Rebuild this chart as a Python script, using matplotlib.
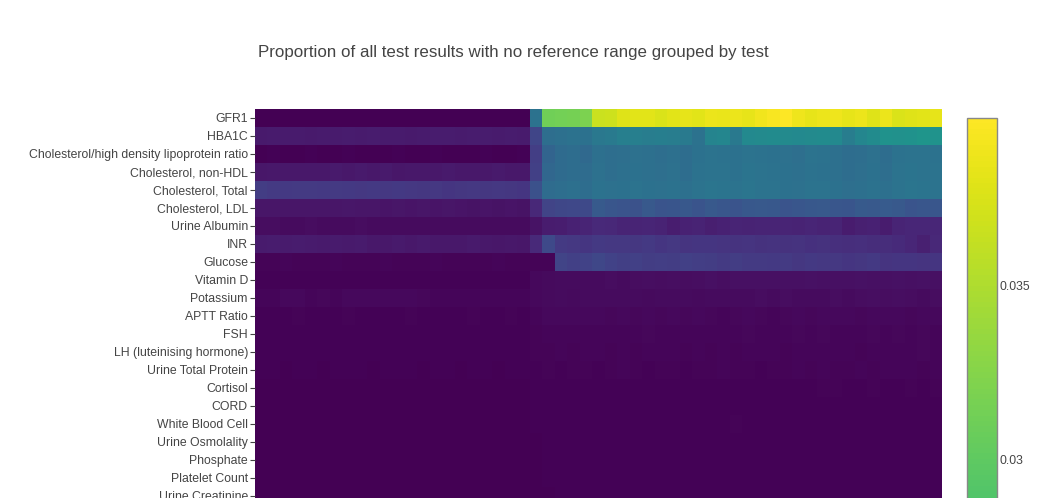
import numpy as np
import matplotlib
matplotlib.use("Agg")
import matplotlib.pyplot as plt
from matplotlib.ticker import FuncFormatter

plt.rcParams['font.family'] = ['Liberation Sans', 'DejaVu Sans']

title = "Proportion of all test results with no reference range grouped by test"

tests = ["GFR1", "HBA1C", "Cholesterol/high density lipoprotein ratio",
         "Cholesterol, non-HDL", "Cholesterol, Total", "Cholesterol, LDL",
         "Urine Albumin", "INR", "Glucose", "Vitamin D", "Potassium",
         "APTT Ratio", "FSH", "LH (luteinising hormone)", "Urine Total Protein",
         "Cortisol", "CORD", "White Blood Cell", "Urine Osmolality",
         "Phosphate", "Platelet Count", "Urine Creatinine"]

# one value per period (55 periods), proportion of results with no range
gfr1 = [0.0001, 0.0001, 0.0000, 0.0001, 0.0001, 0.0000, 0.0001, 0.0001, 0.0001, 0.0000, 0.0001,
        0.0001, 0.0000, 0.0001, 0.0001, 0.0001, 0.0000, 0.0001, 0.0001, 0.0001, 0.0000, 0.0001,
        0.0150, 0.0312, 0.0313, 0.0315, 0.0320, 0.0366, 0.0368, 0.0378, 0.0380, 0.0380, 0.0376,
        0.0380, 0.0383, 0.0380, 0.0386, 0.0385, 0.0386, 0.0384, 0.0390, 0.0394, 0.0398, 0.0388,
        0.0383, 0.0386, 0.0388, 0.0384, 0.0386, 0.0378, 0.0387, 0.0375, 0.0379, 0.0380, 0.0383]
hba1c = [0.0027, 0.0029, 0.0028, 0.0028, 0.0027, 0.0029, 0.0028, 0.0030, 0.0029, 0.0030, 0.0028,
         0.0029, 0.0027, 0.0028, 0.0030, 0.0031, 0.0029, 0.0030, 0.0031, 0.0029, 0.0030, 0.0028,
         0.0082, 0.0143, 0.0146, 0.0150, 0.0148, 0.0159, 0.0163, 0.0171, 0.0171, 0.0167, 0.0169,
         0.0167, 0.0163, 0.0150, 0.0179, 0.0183, 0.0161, 0.0187, 0.0189, 0.0191, 0.0189, 0.0187,
         0.0189, 0.0191, 0.0187, 0.0167, 0.0183, 0.0191, 0.0203, 0.0199, 0.0203, 0.0207, 0.0205]
chol_hdl = [0.0001, 0.0002, 0.0001, 0.0001, 0.0002, 0.0001, 0.0001, 0.0002, 0.0001, 0.0001, 0.0001,
            0.0002, 0.0001, 0.0001, 0.0002, 0.0001, 0.0001, 0.0001, 0.0002, 0.0001, 0.0001, 0.0002,
            0.0072, 0.0127, 0.0137, 0.0140, 0.0135, 0.0146, 0.0142, 0.0144, 0.0147, 0.0145, 0.0143,
            0.0146, 0.0140, 0.0149, 0.0151, 0.0150, 0.0148, 0.0152, 0.0150, 0.0149, 0.0147, 0.0144,
            0.0151, 0.0150, 0.0146, 0.0140, 0.0143, 0.0147, 0.0141, 0.0150, 0.0152, 0.0151, 0.0150]
chol_nonhdl = [0.0024, 0.0026, 0.0025, 0.0026, 0.0025, 0.0026, 0.0027, 0.0026, 0.0027, 0.0026, 0.0027,
               0.0024, 0.0026, 0.0025, 0.0026, 0.0027, 0.0026, 0.0025, 0.0026, 0.0027, 0.0026, 0.0025,
               0.0075, 0.0132, 0.0138, 0.0141, 0.0139, 0.0147, 0.0143, 0.0145, 0.0148, 0.0146, 0.0144,
               0.0147, 0.0141, 0.0150, 0.0152, 0.0151, 0.0149, 0.0153, 0.0151, 0.0150, 0.0148, 0.0145,
               0.0150, 0.0149, 0.0145, 0.0141, 0.0144, 0.0148, 0.0142, 0.0151, 0.0153, 0.0152, 0.0151]
chol_total = [0.0070, 0.0068, 0.0066, 0.0067, 0.0068, 0.0066, 0.0067, 0.0066, 0.0065, 0.0066, 0.0064,
              0.0066, 0.0065, 0.0063, 0.0064, 0.0062, 0.0063, 0.0064, 0.0063, 0.0064, 0.0063, 0.0062,
              0.0099, 0.0139, 0.0143, 0.0146, 0.0141, 0.0150, 0.0147, 0.0148, 0.0151, 0.0149, 0.0147,
              0.0150, 0.0145, 0.0152, 0.0154, 0.0153, 0.0151, 0.0154, 0.0152, 0.0151, 0.0149, 0.0147,
              0.0152, 0.0151, 0.0148, 0.0144, 0.0146, 0.0150, 0.0146, 0.0152, 0.0154, 0.0153, 0.0152]
chol_ldl = [0.0022, 0.0023, 0.0022, 0.0023, 0.0022, 0.0022, 0.0023, 0.0024, 0.0023, 0.0022, 0.0021,
            0.0022, 0.0021, 0.0022, 0.0021, 0.0022, 0.0021, 0.0020, 0.0021, 0.0020, 0.0021, 0.0020,
            0.0044, 0.0080, 0.0084, 0.0087, 0.0088, 0.0111, 0.0106, 0.0104, 0.0101, 0.0109, 0.0104,
            0.0105, 0.0108, 0.0103, 0.0110, 0.0107, 0.0104, 0.0108, 0.0109, 0.0108, 0.0103, 0.0107,
            0.0108, 0.0110, 0.0107, 0.0105, 0.0111, 0.0109, 0.0112, 0.0110, 0.0104, 0.0107, 0.0106]
urine_albumin = [0.0013, 0.0013, 0.0012, 0.0012, 0.0013, 0.0012, 0.0012, 0.0012, 0.0013, 0.0012, 0.0012,
                 0.0011, 0.0012, 0.0012, 0.0011, 0.0012, 0.0011, 0.0011, 0.0012, 0.0011, 0.0011, 0.0012,
                 0.0020, 0.0030, 0.0032, 0.0036, 0.0040, 0.0046, 0.0044, 0.0040, 0.0040, 0.0041, 0.0038,
                 0.0032, 0.0036, 0.0038, 0.0034, 0.0037, 0.0039, 0.0038, 0.0039, 0.0040, 0.0039, 0.0038,
                 0.0041, 0.0038, 0.0039, 0.0031, 0.0035, 0.0036, 0.0031, 0.0040, 0.0042, 0.0043, 0.0042]
inr = [0.0028, 0.0030, 0.0029, 0.0030, 0.0028, 0.0027, 0.0028, 0.0027, 0.0028, 0.0026, 0.0025,
       0.0027, 0.0026, 0.0027, 0.0026, 0.0025, 0.0026, 0.0027, 0.0025, 0.0024, 0.0025, 0.0024,
       0.0046, 0.0088, 0.0068, 0.0064, 0.0062, 0.0066, 0.0064, 0.0064, 0.0063, 0.0066, 0.0062,
       0.0064, 0.0060, 0.0061, 0.0062, 0.0060, 0.0058, 0.0060, 0.0056, 0.0058, 0.0057, 0.0058,
       0.0055, 0.0057, 0.0054, 0.0052, 0.0054, 0.0051, 0.0050, 0.0047, 0.0042, 0.0035, 0.0044]
glucose = [0.0004, 0.0004, 0.0005, 0.0004, 0.0004, 0.0004, 0.0005, 0.0004, 0.0004, 0.0004, 0.0005,
           0.0004, 0.0004, 0.0004, 0.0005, 0.0004, 0.0004, 0.0004, 0.0004, 0.0005, 0.0004, 0.0004,
           0.0004, 0.0004, 0.0080, 0.0076, 0.0078, 0.0084, 0.0078, 0.0074, 0.0076, 0.0071, 0.0073,
           0.0070, 0.0075, 0.0072, 0.0071, 0.0068, 0.0070, 0.0067, 0.0068, 0.0066, 0.0067, 0.0063,
           0.0066, 0.0064, 0.0065, 0.0061, 0.0063, 0.0066, 0.0060, 0.0061, 0.0062, 0.0060, 0.0061]
vitamin_d = [0.0002, 0.0002, 0.0002, 0.0002, 0.0002, 0.0002, 0.0002, 0.0002, 0.0002, 0.0002, 0.0002,
             0.0002, 0.0002, 0.0002, 0.0002, 0.0002, 0.0002, 0.0002, 0.0002, 0.0002, 0.0002, 0.0002,
             0.0008, 0.0010, 0.0011, 0.0012, 0.0011, 0.0012, 0.0013, 0.0012, 0.0013, 0.0014, 0.0013,
             0.0014, 0.0013, 0.0015, 0.0016, 0.0015, 0.0016, 0.0017, 0.0016, 0.0017, 0.0016, 0.0017,
             0.0018, 0.0017, 0.0016, 0.0017, 0.0018, 0.0016, 0.0017, 0.0018, 0.0017, 0.0018, 0.0017]
potassium = [0.0005, 0.0006, 0.0008, 0.0008, 0.0006, 0.0007, 0.0006, 0.0008, 0.0008, 0.0008, 0.0009,
             0.0008, 0.0008, 0.0007, 0.0006, 0.0006, 0.0005, 0.0006, 0.0005, 0.0006, 0.0005, 0.0005,
             0.0008, 0.0010, 0.0011, 0.0010, 0.0011, 0.0012, 0.0011, 0.0012, 0.0011, 0.0010, 0.0011,
             0.0012, 0.0011, 0.0010, 0.0011, 0.0012, 0.0011, 0.0012, 0.0013, 0.0012, 0.0013, 0.0012,
             0.0011, 0.0012, 0.0013, 0.0012, 0.0013, 0.0014, 0.0013, 0.0014, 0.0013, 0.0012, 0.0013]
aptt_ratio = [0.0003, 0.0003, 0.0003, 0.0004, 0.0003, 0.0003, 0.0003, 0.0004, 0.0003, 0.0003, 0.0003,
              0.0003, 0.0004, 0.0003, 0.0003, 0.0003, 0.0003, 0.0004, 0.0003, 0.0003, 0.0004, 0.0003,
              0.0006, 0.0008, 0.0009, 0.0008, 0.0009, 0.0008, 0.0007, 0.0008, 0.0007, 0.0008, 0.0007,
              0.0008, 0.0007, 0.0008, 0.0007, 0.0006, 0.0007, 0.0008, 0.0007, 0.0006, 0.0007, 0.0008,
              0.0007, 0.0008, 0.0009, 0.0008, 0.0007, 0.0008, 0.0009, 0.0008, 0.0007, 0.0008, 0.0009]
fsh = [0.0002, 0.0002, 0.0002, 0.0003, 0.0002, 0.0002, 0.0002, 0.0002, 0.0003, 0.0002, 0.0002,
       0.0002, 0.0002, 0.0002, 0.0003, 0.0002, 0.0002, 0.0002, 0.0002, 0.0002, 0.0003, 0.0002,
       0.0004, 0.0005, 0.0006, 0.0005, 0.0006, 0.0005, 0.0006, 0.0005, 0.0006, 0.0007, 0.0006,
       0.0005, 0.0006, 0.0005, 0.0006, 0.0005, 0.0006, 0.0007, 0.0006, 0.0005, 0.0006, 0.0007,
       0.0006, 0.0007, 0.0006, 0.0005, 0.0006, 0.0007, 0.0006, 0.0007, 0.0006, 0.0007, 0.0006]
lh = [0.0002, 0.0002, 0.0002, 0.0002, 0.0003, 0.0002, 0.0002, 0.0002, 0.0002, 0.0002, 0.0003,
      0.0002, 0.0002, 0.0002, 0.0002, 0.0003, 0.0002, 0.0002, 0.0002, 0.0002, 0.0002, 0.0002,
      0.0004, 0.0004, 0.0005, 0.0004, 0.0005, 0.0005, 0.0004, 0.0005, 0.0004, 0.0005, 0.0006,
      0.0005, 0.0004, 0.0005, 0.0004, 0.0005, 0.0004, 0.0005, 0.0006, 0.0005, 0.0004, 0.0005,
      0.0006, 0.0005, 0.0006, 0.0005, 0.0004, 0.0005, 0.0006, 0.0005, 0.0006, 0.0007, 0.0006]
urine_protein = [0.0002, 0.0002, 0.0001, 0.0002, 0.0002, 0.0001, 0.0002, 0.0002, 0.0002, 0.0001, 0.0002,
                 0.0002, 0.0002, 0.0001, 0.0002, 0.0002, 0.0001, 0.0002, 0.0002, 0.0001, 0.0002, 0.0002,
                 0.0003, 0.0004, 0.0003, 0.0004, 0.0004, 0.0003, 0.0004, 0.0005, 0.0004, 0.0003, 0.0004,
                 0.0004, 0.0003, 0.0004, 0.0004, 0.0005, 0.0004, 0.0004, 0.0003, 0.0004, 0.0004, 0.0005,
                 0.0004, 0.0005, 0.0004, 0.0004, 0.0005, 0.0004, 0.0005, 0.0006, 0.0005, 0.0004, 0.0005]
cortisol = [0.0001, 0.0001, 0.0001, 0.0001, 0.0001, 0.0001, 0.0001, 0.0001, 0.0001, 0.0001, 0.0001,
            0.0001, 0.0001, 0.0001, 0.0001, 0.0001, 0.0001, 0.0001, 0.0001, 0.0001, 0.0001, 0.0001,
            0.0002, 0.0002, 0.0003, 0.0002, 0.0003, 0.0002, 0.0002, 0.0003, 0.0002, 0.0002, 0.0003,
            0.0002, 0.0002, 0.0003, 0.0002, 0.0002, 0.0003, 0.0002, 0.0002, 0.0002, 0.0003, 0.0003,
            0.0003, 0.0004, 0.0004, 0.0003, 0.0003, 0.0004, 0.0003, 0.0003, 0.0004, 0.0003, 0.0004]
cord = [0.0001, 0.0001, 0.0001, 0.0001, 0.0001, 0.0001, 0.0001, 0.0001, 0.0001, 0.0001, 0.0001,
        0.0001, 0.0001, 0.0001, 0.0001, 0.0001, 0.0001, 0.0001, 0.0001, 0.0001, 0.0001, 0.0001,
        0.0002, 0.0002, 0.0002, 0.0003, 0.0002, 0.0002, 0.0002, 0.0002, 0.0003, 0.0002, 0.0002,
        0.0002, 0.0003, 0.0002, 0.0002, 0.0002, 0.0002, 0.0002, 0.0002, 0.0003, 0.0002, 0.0002,
        0.0002, 0.0003, 0.0002, 0.0002, 0.0003, 0.0003, 0.0002, 0.0003, 0.0003, 0.0003, 0.0003]
white_blood_cell = [0.0001, 0.0001, 0.0001, 0.0001, 0.0001, 0.0001, 0.0001, 0.0001, 0.0001, 0.0001, 0.0001,
                    0.0001, 0.0001, 0.0001, 0.0001, 0.0001, 0.0001, 0.0001, 0.0001, 0.0001, 0.0001, 0.0001,
                    0.0002, 0.0002, 0.0002, 0.0002, 0.0002, 0.0002, 0.0002, 0.0002, 0.0002, 0.0002, 0.0002,
                    0.0002, 0.0002, 0.0002, 0.0002, 0.0003, 0.0004, 0.0003, 0.0003, 0.0002, 0.0002, 0.0002,
                    0.0002, 0.0002, 0.0003, 0.0002, 0.0002, 0.0002, 0.0002, 0.0003, 0.0002, 0.0002, 0.0003]
urine_osmolality = [0.0001, 0.0001, 0.0001, 0.0001, 0.0001, 0.0001, 0.0001, 0.0001, 0.0001, 0.0001, 0.0001,
                    0.0001, 0.0001, 0.0001, 0.0001, 0.0001, 0.0001, 0.0001, 0.0001, 0.0001, 0.0001, 0.0001,
                    0.0001, 0.0002, 0.0002, 0.0002, 0.0002, 0.0002, 0.0002, 0.0002, 0.0002, 0.0002, 0.0002,
                    0.0002, 0.0002, 0.0002, 0.0002, 0.0002, 0.0002, 0.0002, 0.0002, 0.0002, 0.0002, 0.0002,
                    0.0003, 0.0003, 0.0003, 0.0003, 0.0003, 0.0003, 0.0002, 0.0003, 0.0003, 0.0003, 0.0003]
phosphate = [0.0001, 0.0001, 0.0001, 0.0001, 0.0001, 0.0001, 0.0001, 0.0001, 0.0001, 0.0001, 0.0001,
             0.0001, 0.0001, 0.0001, 0.0001, 0.0001, 0.0001, 0.0001, 0.0001, 0.0001, 0.0001, 0.0001,
             0.0001, 0.0002, 0.0002, 0.0002, 0.0002, 0.0002, 0.0002, 0.0002, 0.0002, 0.0002, 0.0002,
             0.0002, 0.0002, 0.0002, 0.0002, 0.0002, 0.0002, 0.0002, 0.0002, 0.0002, 0.0002, 0.0002,
             0.0002, 0.0002, 0.0002, 0.0002, 0.0003, 0.0002, 0.0002, 0.0003, 0.0002, 0.0002, 0.0002]
platelet_count = [0.0001, 0.0001, 0.0001, 0.0001, 0.0001, 0.0001, 0.0001, 0.0001, 0.0001, 0.0001, 0.0001,
                  0.0001, 0.0001, 0.0001, 0.0001, 0.0001, 0.0001, 0.0001, 0.0001, 0.0001, 0.0001, 0.0001,
                  0.0001, 0.0002, 0.0002, 0.0002, 0.0002, 0.0002, 0.0002, 0.0002, 0.0002, 0.0002, 0.0002,
                  0.0002, 0.0002, 0.0002, 0.0002, 0.0002, 0.0003, 0.0003, 0.0002, 0.0002, 0.0002, 0.0002,
                  0.0002, 0.0002, 0.0002, 0.0002, 0.0002, 0.0002, 0.0002, 0.0002, 0.0002, 0.0002, 0.0002]
urine_creatinine = [0.0001, 0.0001, 0.0001, 0.0001, 0.0001, 0.0001, 0.0001, 0.0001, 0.0001, 0.0001, 0.0001,
                    0.0001, 0.0001, 0.0001, 0.0001, 0.0001, 0.0001, 0.0001, 0.0001, 0.0001, 0.0001, 0.0001,
                    0.0001, 0.0001, 0.0002, 0.0002, 0.0002, 0.0002, 0.0002, 0.0002, 0.0002, 0.0002, 0.0002,
                    0.0002, 0.0002, 0.0002, 0.0002, 0.0002, 0.0002, 0.0002, 0.0002, 0.0002, 0.0002, 0.0002,
                    0.0002, 0.0002, 0.0002, 0.0002, 0.0002, 0.0002, 0.0002, 0.0002, 0.0002, 0.0002, 0.0002]

z = np.array([gfr1, hba1c, chol_hdl, chol_nonhdl, chol_total, chol_ldl,
              urine_albumin, inr, glucose, vitamin_d, potassium, aptt_ratio,
              fsh, lh, urine_protein, cortisol, cord, white_blood_cell,
              urine_osmolality, phosphate, platelet_count, urine_creatinine])
zmin, zmax = 0.0, 0.0398
cbar_ticks = [0.0, 0.005, 0.01, 0.015, 0.02, 0.025, 0.03, 0.035]

W, H = 1038, 498
fig = plt.figure(figsize=(W / 100, H / 100), dpi=100)
text_col = '#444444'

# heatmap area: 255..942 px wide, rows 18 px from y=108.5 (runs past the bottom edge)
nrows, ncols = z.shape
top = 108.5
ax = fig.add_axes([255 / W, (H - top - 18 * nrows) / H, 687 / W, 18 * nrows / H])
mesh = ax.pcolormesh(np.arange(ncols + 1), np.arange(nrows + 1), z,
                     cmap='viridis', vmin=zmin, vmax=zmax)
ax.set_xlim(0, ncols)
ax.set_ylim(nrows, 0)
ax.set_yticks(np.arange(nrows) + 0.5)
ax.set_yticklabels(tests, fontsize=8.85, color=text_col)
ax.tick_params(axis='y', length=3.6, width=0.8, color=text_col, pad=1.5)
ax.set_xticks([])
for s in ax.spines.values():
    s.set_visible(False)

# colourbar, long, most of it below the visible region
cb_len = (zmax - zmin) * 34800
cax = fig.add_axes([967 / W, (H - 118 - cb_len) / H, 30 / W, cb_len / H])
cb = fig.colorbar(mesh, cax=cax, ticks=cbar_ticks)
cb.ax.yaxis.set_major_formatter(FuncFormatter(lambda v, p: ('%g' % v)))
cb.ax.tick_params(length=0, pad=2, labelsize=8.85, labelcolor=text_col)
cb.outline.set_edgecolor('#888888')
cb.outline.set_linewidth(1)

fig.text(513.5 / W, 1 - 53 / H, title, ha='center', va='center',
         fontsize=12.15, color=text_col)

fig.savefig('out.png', dpi=100)
